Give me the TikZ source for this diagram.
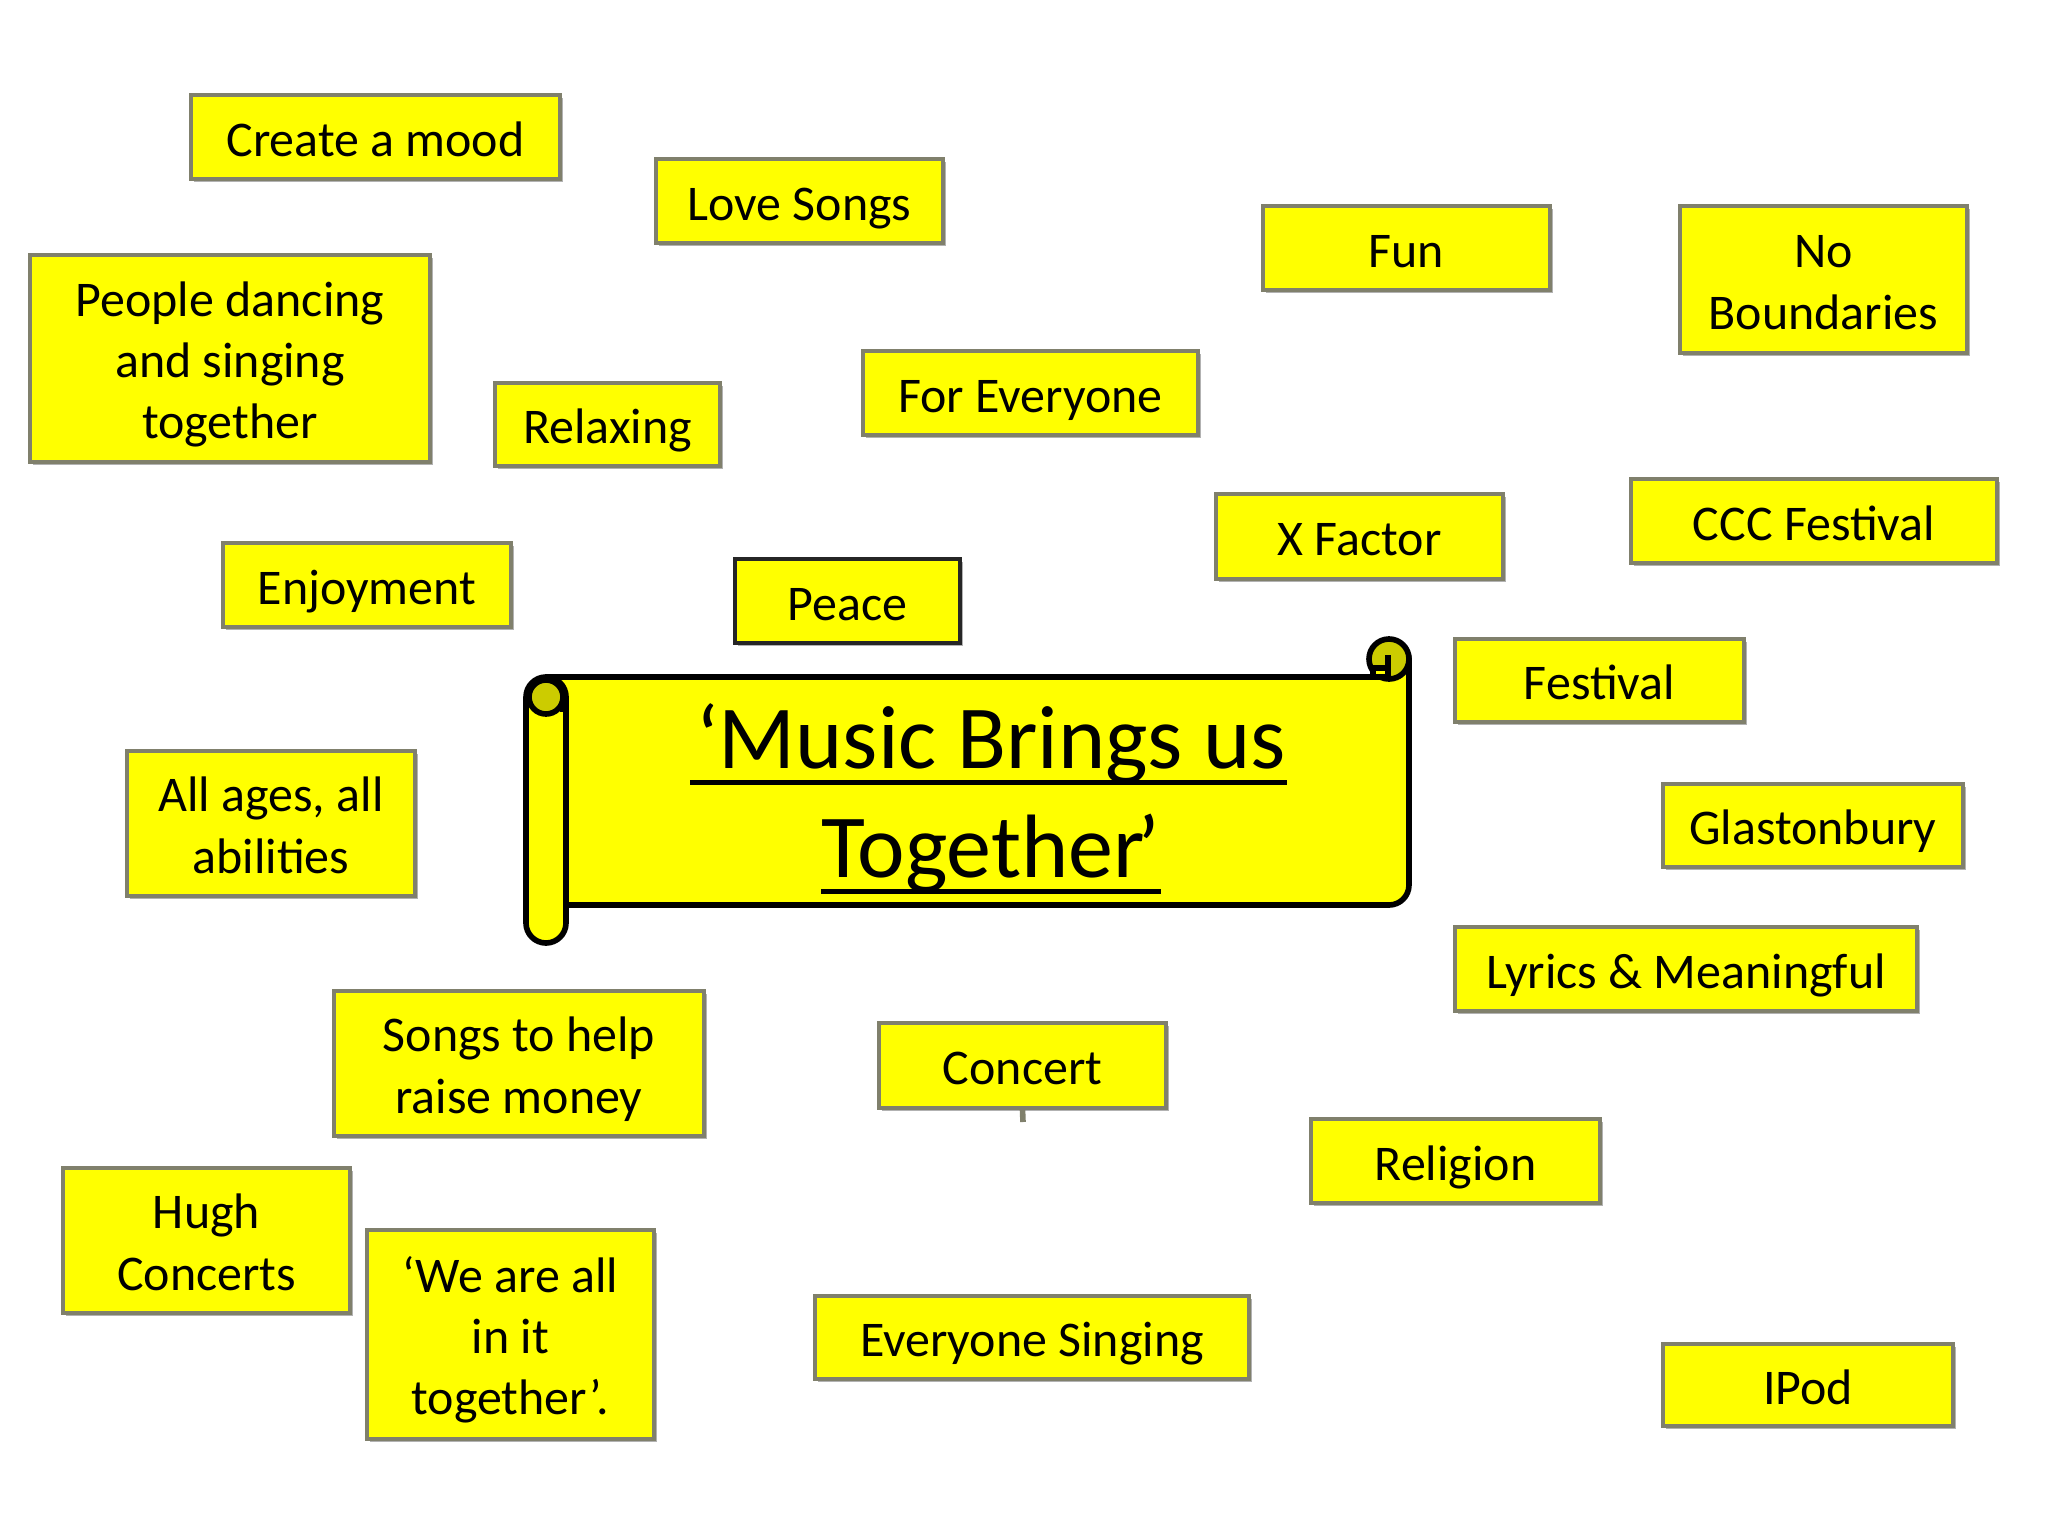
\documentclass[tikz,border=0pt]{standalone}
\usepackage{fontspec}
\setmainfont{Carlito}
\usetikzlibrary{shadows}
\definecolor{boxline}{RGB}{128,128,108}
\definecolor{ylw}{RGB}{255,255,0}
\definecolor{dylw}{RGB}{204,204,0}
\newcommand\bxstrutA{\rule{0pt}{0.50cm}}
\newcommand\bxstrutB{\rule[-0.12cm]{0pt}{0.3cm}}
\tikzset{
  bx/.style={draw=boxline, fill=ylw, line width=0.9pt, text=black, align=center,
    inner sep=0pt, font=\fontsize{14.2}{17.4}\selectfont,
    general shadow={fill=black!30, shadow xshift=0.025cm, shadow yshift=-0.03cm}},
  scrl/.style={draw=black, fill=ylw, line width=1.6pt, line join=round},
  curl/.style={draw=black, fill=dylw, line width=1.6pt},
  ttl/.style={inner sep=0pt, anchor=base, text=black, font=\fontsize{25.6}{30}\selectfont},
}
\newcommand\ybox[7][]{%
  \node[bx,#1, minimum width={(#5-#3)*0.01cm}, minimum height={(#6-#4)*0.01cm}]
    (#2) at ({(#3+#5)/2},{(#4+#6)/2}) {\bxstrutA#7\bxstrutB};}
\begin{document}
\begin{tikzpicture}[x=0.01cm, y=-0.01cm]
\useasboundingbox (0,0) rectangle (2048,1536);
\fill[white] (0,0) rectangle (2048,1536);

% boxes
\ybox{cm}{191}{95}{560}{179}{Create a mood}
\ybox{ls}{656}{159}{943}{243}{Love Songs}
\ybox{fun}{1263}{206}{1550}{290}{Fun}
\ybox{nob}{1680}{206}{1967}{353}{No\\Boundaries}
\ybox{pds}{30}{255}{430}{462}{People dancing\\and singing\\together}
\ybox{rel}{495}{383}{720}{466}{Relaxing}
\ybox{fe}{863}{351}{1198}{435}{For Everyone}
\ybox{xf}{1216}{494}{1503}{579}{X Factor}
\ybox{ccc}{1631}{479}{1997}{563}{CCC Festival}
\ybox{enj}{223}{543}{511}{627}{Enjoyment}
\ybox[draw=black!85]{pea}{735}{559}{960}{643}{Peace}
\ybox{fes}{1455}{639}{1744}{722}{Festival}
\ybox{aa}{127}{751}{415}{896}{All ages, all\\abilities}
\ybox{gla}{1663}{784}{1963}{867}{Glastonbury}
\ybox{lyr}{1455}{927}{1917}{1011}{Lyrics \& Meaningful}
\ybox{sth}{334}{991}{704}{1136}{Songs to help\\raise money}
\ybox{con}{879}{1023}{1166}{1108}{Concert}
\ybox{rlg}{1311}{1119}{1600}{1203}{Religion}
\ybox{hc}{63}{1168}{350}{1313}{Hugh\\Concerts}
\ybox{we}{367}{1230}{654}{1439}{‘We are all\\in it\\together’.}
\ybox{es}{815}{1296}{1249}{1379}{Everyone Singing}
\ybox{ipod}{1663}{1344}{1953}{1426}{IPod}

\coordinate (tick) at (1023,1122);
\draw[boxline, line width=1.6pt] (con.south) -- (tick);

% scroll body
\path[scrl] (546,677) -- (1373,677) -- (1373,660) arc(180:0:0.18cm)
  -- (1409,885) arc(0:-90:0.2cm) -- (566,905) -- cycle;
% right curl
\path[curl] (1389,659) circle[radius=0.2cm];
\path[scrl] (1373,668) -- (1388,668) -- (1388,677) -- (1373,677) -- cycle;
\draw[black, line width=1.6pt] (1388,655) -- (1388,677);
% left roll
\path[scrl] (526,697) arc(180:0:0.2cm) -- (566,923) arc(0:-180:0.2cm) -- cycle;
\path[curl] (546,697) circle[radius=0.17cm];
\draw[black, line width=1.6pt] (563,697) -- (563,712);

% title
\node[ttl] (t1) at (991,768) {‘Music Brings us};
\node[ttl] (t2) at (991,877) {Together\kern-0.08em’};
\draw[black, line width=0.05cm] ([xshift=-0.05cm,yshift=-0.14cm]t1.base west) -- ([yshift=-0.14cm]t1.base east);
\draw[black, line width=0.05cm] ([yshift=-0.14cm]t2.base west) -- ([yshift=-0.14cm]t2.base east);
\end{tikzpicture}
\end{document}
